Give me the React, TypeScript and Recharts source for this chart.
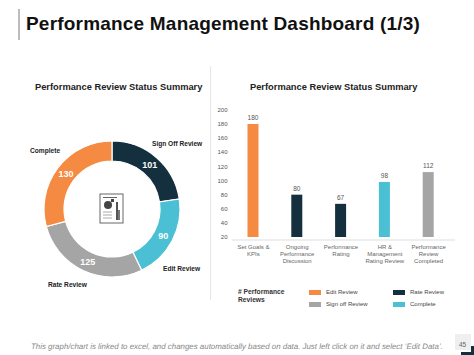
import React from 'react';
import { BarChart, Bar, XAxis, YAxis, Cell, LabelList, PieChart, Pie } from 'recharts';

const sliceNames = ['Sign Off Review', 'Edit Review', 'Rate Review', 'Complete'];
const sliceValues = [101, 90, 125, 130];
const sliceColors = ['#14303F', '#4BBFD3', '#A5A5A5', '#F58A42'];

const barCategories = [
  'Set Goals &|KPIs',
  'Ongoing|Performance|Discussion',
  'Performance|Rating',
  'HR &|Management|Rating Review',
  'Performance|Review|Completed',
];
const barValues = [180, 80, 67, 98, 112];
const barColors = ['#F58A42', '#14303F', '#14303F', '#4BBFD3', '#A5A5A5'];
const yTicks = [20, 40, 60, 80, 100, 120, 140, 160, 180, 200];

const legendNames = ['Edit Review', 'Rate Review', 'Sign off Review', 'Complete'];
const legendColors = ['#F58A42', '#14303F', '#A5A5A5', '#4BBFD3'];

const pieData = sliceNames.map((name, i) => ({ name, value: sliceValues[i] }));
const barData = barCategories.map((name, i) => ({ name, value: barValues[i] }));

const sans = '"Liberation Sans", Arial, sans-serif';

function abs(left: number, top: number, extra: React.CSSProperties = {}): React.CSSProperties {
  return { position: 'absolute', left, top, whiteSpace: 'nowrap', fontFamily: sans, ...extra };
}

function SliceValue({ cx, cy, midAngle, innerRadius, outerRadius, value }: any) {
  const r = (innerRadius + outerRadius) / 2;
  const rad = (midAngle * Math.PI) / 180;
  return (
    <text
      x={cx + r * Math.cos(rad)}
      y={cy - r * Math.sin(rad)}
      fill="#fff"
      fontSize={9}
      fontWeight="bold"
      fontFamily={sans}
      textAnchor="middle"
      dominantBaseline="central"
    >
      {value}
    </text>
  );
}

function CategoryTick({ x, y, payload }: any) {
  return (
    <text x={x} y={y} fill="#666" fontSize={6} fontFamily={sans} textAnchor="middle">
      {payload.value.split('|').map((line: string, i: number) => (
        <tspan key={i} x={x} dy={i === 0 ? 1 : 7}>
          {line}
        </tspan>
      ))}
    </text>
  );
}

function ReportIcon() {
  return (
    <svg style={{ position: 'absolute', left: 99, top: 193 }} width={27} height={32}>
      <rect x={1} y={1} width={23} height={29} fill="#fff" stroke="#666" strokeWidth={1} />
      <line x1={4} y1={4.5} x2={18} y2={4.5} stroke="#666" />
      <circle cx={9} cy={12} r={4} fill="#444" />
      <path d="M12 6 L15 6 L15 9 L12 9 Z" fill="#444" />
      <line x1={4} y1={19} x2={13} y2={19} stroke="#aaa" />
      <line x1={4} y1={22} x2={13} y2={22} stroke="#aaa" />
      <line x1={4} y1={25} x2={13} y2={25} stroke="#aaa" />
      <rect x={17} y={9} width={2} height={18} fill="#555" />
      <rect x={19} y={17} width={2} height={10} fill="#777" />
    </svg>
  );
}

export default function App() {
  const subtitle = { fontWeight: 'bold', fontSize: 9.3, color: '#222', lineHeight: '12px' } as const;
  const sliceLabel = { fontWeight: 'bold', fontSize: 6.6, color: '#222', lineHeight: '9px' } as const;
  return (
    <div style={{ position: 'absolute', left: 0, top: 0, width: 474, height: 355, background: '#fff', overflow: 'hidden' }}>
      <div style={{ position: 'absolute', left: 18, top: 9, width: 2, height: 31, background: '#bdbdbd' }} />
      <div style={abs(26, 11, { fontWeight: 'bold', fontSize: 19, color: '#111', lineHeight: '26px', letterSpacing: 0.2 })}>
        Performance Management Dashboard (1/3)
      </div>

      <div style={{ position: 'absolute', left: 210, top: 66, width: 1, height: 234, background: '#e6e6e6' }} />

      <div style={abs(35, 81, subtitle)}>Performance Review Status Summary</div>
      <div style={abs(250, 81, subtitle)}>Performance Review Status Summary</div>

      <div style={{ position: 'absolute', left: 32, top: 129 }}>
        <PieChart width={160} height={160} margin={{ top: 0, right: 0, bottom: 0, left: 0 }}>
          <Pie
            data={pieData}
            dataKey="value"
            cx={80}
            cy={80}
            innerRadius={48}
            outerRadius={68}
            startAngle={90}
            endAngle={-270}
            stroke="#fff"
            strokeWidth={1.2}
            label={SliceValue}
            labelLine={false}
            isAnimationActive={false}
          >
            {sliceColors.map((c, i) => (
              <Cell key={i} fill={c} />
            ))}
          </Pie>
        </PieChart>
      </div>
      <ReportIcon />

      <div style={abs(152, 139, sliceLabel)}>{sliceNames[0]}</div>
      <div style={abs(163, 264, sliceLabel)}>{sliceNames[1]}</div>
      <div style={abs(48, 280, sliceLabel)}>{sliceNames[2]}</div>
      <div style={abs(30, 146, sliceLabel)}>{sliceNames[3]}</div>

      <div style={{ position: 'absolute', left: 205, top: 100 }}>
        <BarChart width={255} height={175} data={barData} margin={{ top: 10, right: 5, bottom: 0, left: 0 }}>
          <XAxis
            dataKey="name"
            interval={0}
            height={35}
            padding={{ left: 0, right: 4.5 }}
            axisLine={{ stroke: '#ddd' }}
            tickLine={false}
            tick={<CategoryTick />}
          />
          <YAxis
            width={26.5}
            domain={[20, 200]}
            ticks={yTicks}
            padding={{ top: 0, bottom: 3 }}
            axisLine={false}
            tickLine={false}
            tickSize={0}
            tickMargin={4}
            tick={{ fontSize: 6, fill: '#555', fontFamily: sans }}
          />
          <Bar dataKey="value" barSize={11} isAnimationActive={false}>
            {barColors.map((c, i) => (
              <Cell key={i} fill={c} />
            ))}
            <LabelList dataKey="value" position="top" offset={4} fontSize={6.5} fill="#555" fontFamily={sans} />
          </Bar>
        </BarChart>
      </div>

      <div style={abs(238, 288, { fontWeight: 'bold', fontSize: 6.7, color: '#333', lineHeight: '8px' })}>
        # Performance
        <br />
        Reviews
      </div>
      {legendNames.map((name, i) => {
        const left = i % 2 === 0 ? 309 : 393;
        const top = i < 2 ? 290 : 302;
        return (
          <React.Fragment key={name}>
            <div style={{ position: 'absolute', left, top, width: 12, height: 5, background: legendColors[i] }} />
            <div style={abs(left + 17, top - 2, { fontSize: 6, color: '#444', lineHeight: '9px' })}>{name}</div>
          </React.Fragment>
        );
      })}

      <div style={abs(31, 341, { fontStyle: 'italic', fontSize: 7.9, textRendering: 'geometricPrecision', color: '#888', lineHeight: '12px' })}>
        This graph/chart is linked to excel, and changes automatically based on data. Just left click on it and select ‘Edit Data’.
      </div>

      <div style={{ position: 'absolute', left: 455, top: 334, width: 16, height: 16, background: '#efefef' }} />
      <div style={abs(459, 340, { fontSize: 6.5, color: '#666', lineHeight: '9px' })}>45</div>
      <div style={{ position: 'absolute', left: 461, top: 352, width: 13, height: 3, background: '#14303F' }} />
      <div style={{ position: 'absolute', left: 471, top: 346, width: 3, height: 9, background: '#14303F' }} />
    </div>
  );
}
